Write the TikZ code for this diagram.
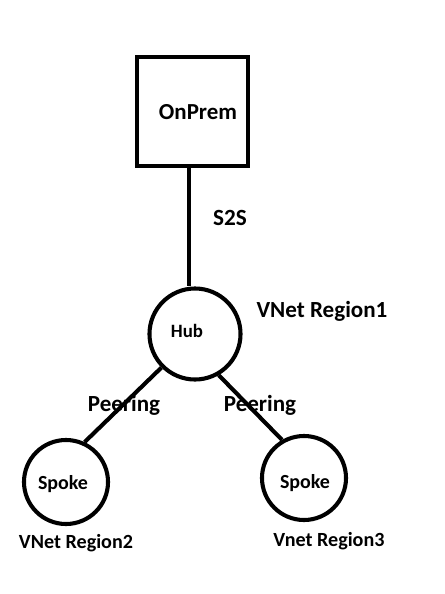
\documentclass[tikz,border=0pt]{standalone}
\usepackage{fontspec}
\setmainfont{Carlito}
\usetikzlibrary{calc}

\begin{document}
\begin{tikzpicture}[x=0.025cm, y=0.025cm]
\tikzstyle{every node}+=[inner sep=0pt]
\tikzstyle{box}=[draw, line width=2.9pt, minimum width=2.775cm, minimum height=2.725cm]
\tikzstyle{hubnode}=[draw, circle, line width=2.9pt, minimum size=2.275cm]
\tikzstyle{spokenode}=[draw, circle, line width=2.9pt, minimum size=2.1cm]
\tikzstyle{txt}=[anchor=base, font=\bfseries]
\tikzstyle{link}=[line width=2.9pt]
\useasboundingbox (0,0) rectangle (445,-594);
\node [box] (onprem) at (192.5,-111.5) {};
\node [hubnode] (hub) at (195,-334) {};
\node [spokenode] (spoke2) at (66,-482) {};
\node [spokenode] (spoke3) at (304,-478) {};
\draw [link] ($(onprem.south)+(-3.5,0)$) -- ($(hub.north)+(-6,0)$);
\draw [link] (hub.225) -- (spoke2.65);
\draw [link] (hub.300) -- (spoke3.120);
\node [txt, font=\bfseries\fontsize{16.3}{19}\selectfont] (onpremlabel) at (198,-119) {OnPrem};
\node [txt, font=\bfseries\fontsize{16.5}{19}\selectfont] (s2s) at (230,-225) {S2S};
\node [txt, font=\bfseries\fontsize{16.4}{19}\selectfont] (region1) at (322,-317) {VNet Region1};
\node [txt, font=\bfseries\fontsize{13.4}{16}\selectfont] (hublabel) at (187,-337) {Hub};
\node [txt, font=\bfseries\fontsize{16.4}{19}\selectfont] (peering2) at (124,-411) {Peering};
\node [txt, font=\bfseries\fontsize{16.4}{19}\selectfont] (peering3) at (260,-411) {Peering};
\node [txt, font=\bfseries\fontsize{14.2}{17}\selectfont] (spoke2label) at (63,-489) {Spoke};
\node [txt, font=\bfseries\fontsize{14.2}{17}\selectfont] (spoke3label) at (305,-488) {Spoke};
\node [txt, font=\bfseries\fontsize{14.3}{17}\selectfont] (region2) at (76,-548) {VNet Region2};
\node [txt, font=\bfseries\fontsize{14.3}{17}\selectfont] (region3) at (329,-546) {Vnet Region3};
\end{tikzpicture}
\end{document}
